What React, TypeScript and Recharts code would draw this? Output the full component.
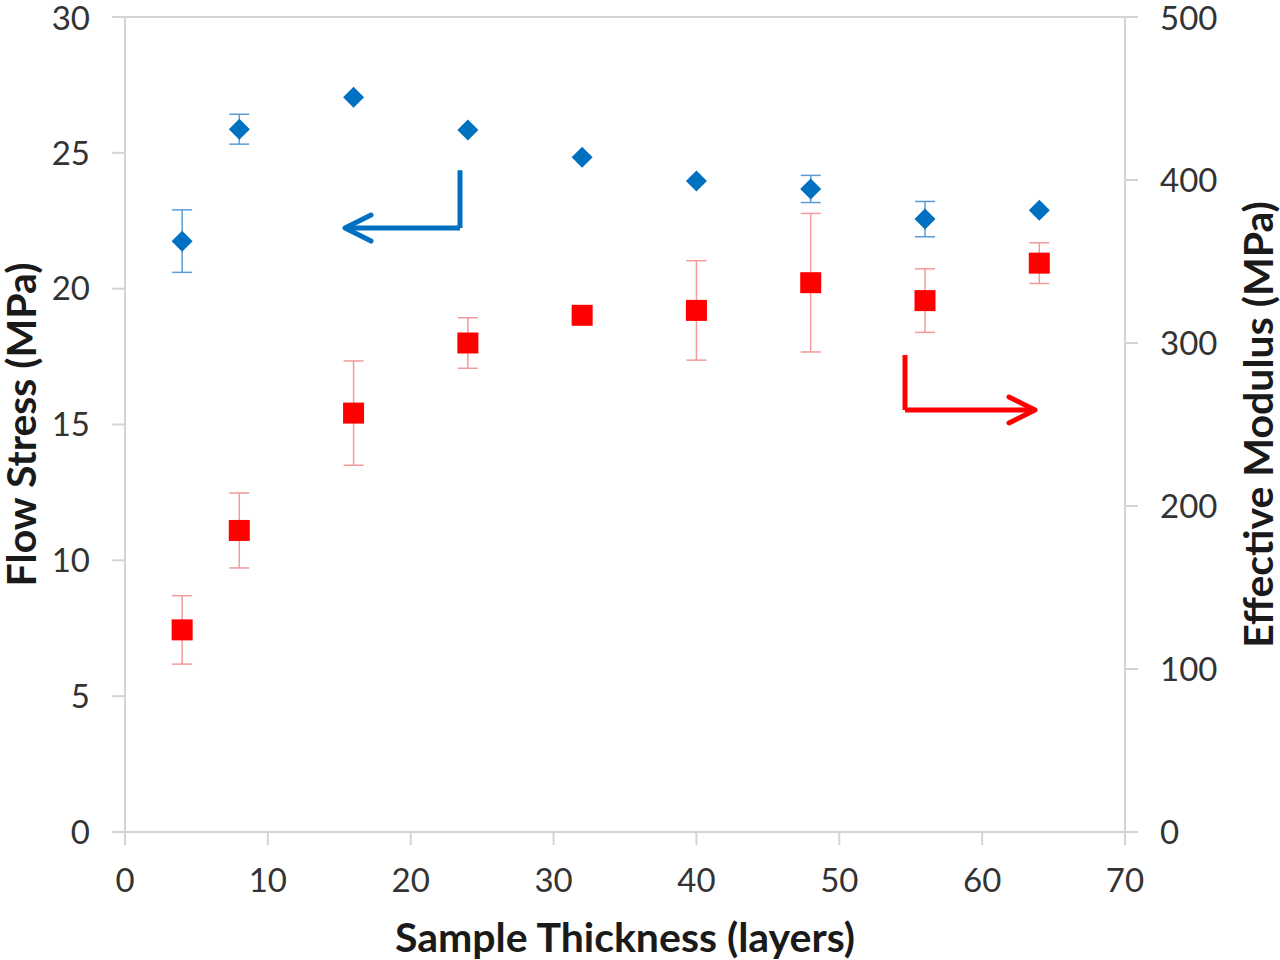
import React from 'react';
import {
  ScatterChart,
  Scatter,
  XAxis,
  YAxis,
  ErrorBar,
  ReferenceLine
} from 'recharts';

// sample thickness in layers
const thickness = [4, 8, 16, 24, 32, 40, 48, 56, 64];
// flow stress (MPa), left axis
const flowStress = [21.75, 25.87, 27.05, 25.84, 24.84, 23.96, 23.67, 22.56, 22.89];
const flowStressErr = [1.15, 0.55, null, null, null, null, 0.5, 0.65, null];
// effective modulus (MPa), right axis
const modulus = [124, 185, 257, 300, 317, 320, 337, 326, 349];
const modulusErr = [21, 23, 32, 15.5, null, 30.5, 42.5, 19.5, 12.5];

const xTicks = [0, 10, 20, 30, 40, 50, 60, 70];
const leftTicks = [0, 5, 10, 15, 20, 25, 30];
const rightTicks = [0, 100, 200, 300, 400, 500];

const flowData = thickness.map((x, i) => ({ x, y: flowStress[i], err: flowStressErr[i] }));
const modulusData = thickness.map((x, i) => ({ x, y: modulus[i], err: modulusErr[i] }));

const FONT = 'Lato, "Open Sans", sans-serif';
const AXIS = '#d4d4d4';
const BLUE = '#0070c0';
const RED = '#ff0000';

const Diamond = ({ cx, cy }: any) => {
  const r = 10.5;
  return (
    <path
      d={`M${cx},${cy - r}L${cx + r},${cy}L${cx},${cy + r}L${cx - r},${cy}Z`}
      fill={BLUE}
    />
  );
};

const Square = ({ cx, cy }: any) => {
  const r = 10.5;
  return <rect x={cx - r} y={cy - r} width={r * 2} height={r * 2} fill={RED} />;
};

const arrowShape = (color: string) => (props: any) => {
  const { x1, y1, x2, y2 } = props;
  const dir = x2 > x1 ? 1 : -1;
  const head = 26;
  return (
    <g>
      <line x1={x1} y1={y1} x2={x2} y2={y2} stroke={color} strokeWidth={5} />
      <polyline
        points={`${x2 - dir * head},${y2 - 13} ${x2},${y2} ${x2 - dir * head},${y2 + 13}`}
        fill="none"
        stroke={color}
        strokeWidth={5}
        strokeLinecap="round"
        strokeLinejoin="round"
      />
    </g>
  );
};

const tickStyle = { fontSize: 33, fill: '#333', fontFamily: FONT };
const titleStyle = { fontSize: 41, fill: '#1a1a1a', fontFamily: FONT, fontWeight: 700, textAnchor: 'middle' as const };

const App: React.FC = () => {
  return (
    <div style={{ position: 'fixed', top: 0, left: 0, width: 1280, height: 960, background: '#fff' }}>
      <ScatterChart
        width={1280}
        height={960}
        margin={{ top: 17, right: 0, bottom: 0, left: 0 }}
      >
        <XAxis
          type="number"
          dataKey="x"
          domain={[0, 70]}
          ticks={xTicks}
          height={128}
          stroke={AXIS}
          strokeWidth={2}
          tickSize={13}
          tickMargin={24}
          tick={tickStyle}
          label={{
            value: 'Sample Thickness (layers)',
            position: 'insideBottom',
            offset: 8,
            style: titleStyle
          }}
        />
        <YAxis
          yAxisId="left"
          type="number"
          dataKey="y"
          domain={[0, 30]}
          ticks={leftTicks}
          width={125}
          stroke={AXIS}
          strokeWidth={2}
          tickSize={13}
          tickMargin={22}
          tick={tickStyle}
          label={{
            value: 'Flow Stress (MPa)',
            angle: -90,
            position: 'insideLeft',
            offset: 21,
            style: titleStyle
          }}
        />
        <YAxis
          yAxisId="right"
          orientation="right"
          type="number"
          dataKey="y"
          domain={[0, 500]}
          ticks={rightTicks}
          width={155}
          stroke={AXIS}
          strokeWidth={2}
          tickSize={13}
          tickMargin={22}
          tick={{ ...tickStyle, textAnchor: 'start' }}
          label={{
            value: 'Effective Modulus (MPa)',
            angle: -90,
            position: 'insideRight',
            offset: 22,
            style: titleStyle
          }}
        />
        <ReferenceLine
          yAxisId="left"
          segment={[{ x: -0.9, y: 30 }, { x: 70.9, y: 30 }]}
          stroke={AXIS}
          strokeWidth={2}
          ifOverflow="visible"
        />
        {/* blue arrow pointing to the left axis */}
        <ReferenceLine
          yAxisId="left"
          segment={[{ x: 23.45, y: 24.36 }, { x: 23.45, y: 22.23 }]}
          stroke={BLUE}
          strokeWidth={5}
        />
        <ReferenceLine
          yAxisId="left"
          segment={[{ x: 23.45, y: 22.23 }, { x: 15.4, y: 22.23 }]}
          shape={arrowShape(BLUE)}
        />
        {/* red arrow pointing to the right axis */}
        <ReferenceLine
          yAxisId="right"
          segment={[{ x: 54.6, y: 292.6 }, { x: 54.6, y: 258.9 }]}
          stroke={RED}
          strokeWidth={5}
        />
        <ReferenceLine
          yAxisId="right"
          segment={[{ x: 54.6, y: 258.9 }, { x: 63.7, y: 258.9 }]}
          shape={arrowShape(RED)}
        />
        <Scatter
          yAxisId="left"
          data={flowData}
          shape={<Diamond />}
          isAnimationActive={false}
        >
          <ErrorBar dataKey="err" direction="y" width={10} stroke="#5b9bd5" strokeWidth={1.5} />
        </Scatter>
        <Scatter
          yAxisId="right"
          data={modulusData}
          shape={<Square />}
          isAnimationActive={false}
        >
          <ErrorBar dataKey="err" direction="y" width={10} stroke="#f49a9a" strokeWidth={1.5} />
        </Scatter>
      </ScatterChart>
    </div>
  );
};

export default App;
